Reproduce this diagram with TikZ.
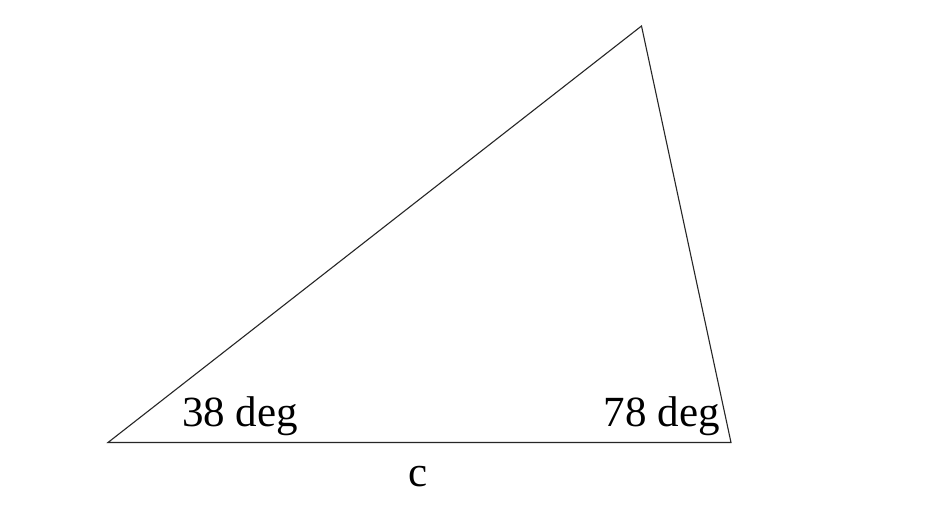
\documentclass[tikz,border=0pt]{standalone}
\usepackage{fontspec}
\setmainfont{Liberation Serif}
\begin{document}
\begin{tikzpicture}[x=1pt,y=1pt,
  edge/.style={draw=black!85,line width=1.1pt,line join=miter},
  lbl/.style={inner sep=0pt,font=\fontsize{43}{43}\selectfont}]
\useasboundingbox (0,0) rectangle (942,521);
\fill[white] (0,0) rectangle (942,521);
\coordinate (A) at (108,78.5);
\coordinate (B) at (731,78.5);
\coordinate (C) at (641.5,495);
\draw[edge] (A) -- (B) -- (C) -- cycle;
\node[lbl,anchor=base west] (la) at (182,94) {38 deg};
\node[lbl,anchor=base east] (lb) at (720,94) {78 deg};
\node[lbl,anchor=base] (lc) at (418.5,34) {c};
\end{tikzpicture}
\end{document}
